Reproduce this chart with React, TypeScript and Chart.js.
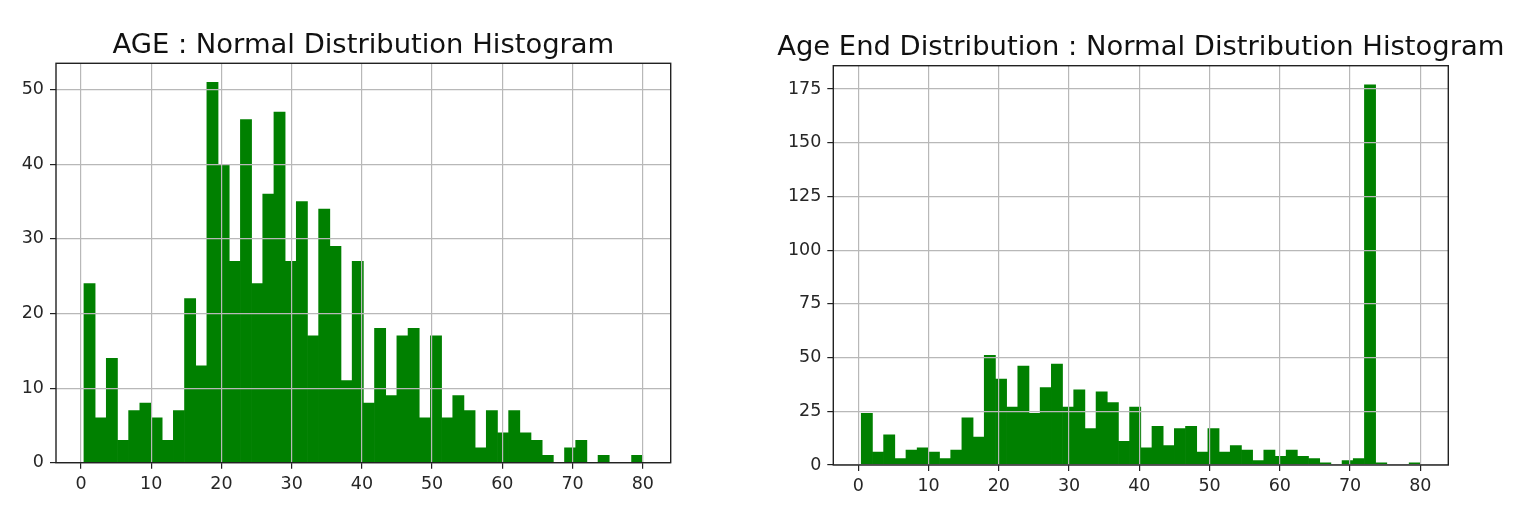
import React, { useEffect, useRef } from 'react';
import { Chart, registerables } from 'chart.js';

Chart.register(...registerables);

// Histogram bins (50 bins between min and max age)
const binMin = 0.42;
const binMax = 80;

// Counts per bin
const ageCounts = [
  24, 6, 14, 3, 7, 8, 6, 3, 7, 22,
  13, 51, 40, 27, 46, 24, 36, 47, 27, 35,
  17, 34, 29, 11, 27, 8, 18, 9, 17, 18,
  6, 17, 6, 9, 7, 2, 7, 4, 7, 4,
  3, 1, 0, 2, 3, 0, 1, 0, 0, 1,
];
const ageEndCounts = [
  24, 6, 14, 3, 7, 8, 6, 3, 7, 22,
  13, 51, 40, 27, 46, 24, 36, 47, 27, 35,
  17, 34, 29, 11, 27, 8, 18, 9, 17, 18,
  6, 17, 6, 9, 7, 2, 7, 4, 7, 4,
  3, 1, 0, 2, 3, 177, 1, 0, 0, 1,
];

const xTicks = [0, 10, 20, 30, 40, 50, 60, 70, 80];
const ageYTicks = [0, 10, 20, 30, 40, 50];
const ageEndYTicks = [0, 25, 50, 75, 100, 125, 150, 175];

const ageTitle = 'AGE : Normal Distribution Histogram';
const ageEndTitle = 'Age End Distribution : Normal Distribution Histogram';

const FONT = "'DejaVu Sans', sans-serif";
const W = 762;
const H = 528;

type Area = { left: number; top: number; right: number; bottom: number; titleY: number };

function makeConfig(counts: number[], yTicks: number[], title: string, area: Area): any {
  const bw = (binMax - binMin) / counts.length;
  const data = counts.map((c, i) => ({ x: binMin + (i + 0.5) * bw, y: c }));
  const pad = (binMax - binMin) * 0.05;
  const yMax = Math.max(...counts) * 1.05;

  const framePlugin = {
    id: 'frame' + title.length,
    afterDraw(chart: any) {
      const { ctx, chartArea } = chart;
      ctx.save();
      ctx.strokeStyle = '#222';
      ctx.lineWidth = 1.4;
      ctx.strokeRect(chartArea.left, chartArea.top, chartArea.right - chartArea.left, chartArea.bottom - chartArea.top);
      ctx.fillStyle = '#111';
      ctx.font = `27.4px ${FONT}`;
      ctx.textAlign = 'center';
      ctx.textBaseline = 'alphabetic';
      ctx.fillText(title, (chartArea.left + chartArea.right) / 2, area.titleY);
      ctx.restore();
    },
  };

  const gridOpts = {
    z: 1,
    offset: false,
    color: '#b8b8b8',
    lineWidth: 1.2,
    drawTicks: true,
    tickLength: 6,
    tickColor: '#222',
    tickWidth: 1.2,
  };
  const tickFont = { family: FONT, size: 17.5 };

  return {
    type: 'bar',
    data: {
      datasets: [
        {
          data,
          backgroundColor: 'green',
          borderWidth: 0,
          barPercentage: 1,
          categoryPercentage: 1,
        },
      ],
    },
    options: {
      animation: false,
      responsive: false,
      maintainAspectRatio: false,
      events: [],
      layout: { padding: { left: 0, top: area.top, right: W - area.right, bottom: 0 } },
      plugins: { legend: { display: false }, tooltip: { enabled: false }, title: { display: false } },
      scales: {
        x: {
          type: 'linear',
          offset: false,
          bounds: 'data',
          min: binMin - pad,
          max: binMax + pad,
          afterBuildTicks: (s: any) => {
            s.ticks = xTicks.map((v) => ({ value: v }));
          },
          afterFit: (s: any) => {
            s.height = H - area.bottom;
          },
          grid: gridOpts,
          border: { display: false },
          ticks: { font: tickFont, color: '#262626', padding: 5, maxRotation: 0, autoSkip: false },
        },
        y: {
          type: 'linear',
          offset: false,
          bounds: 'data',
          min: 0,
          max: yMax,
          afterBuildTicks: (s: any) => {
            s.ticks = yTicks.map((v) => ({ value: v }));
          },
          afterFit: (s: any) => {
            s.width = area.left;
          },
          grid: gridOpts,
          border: { display: false },
          ticks: { font: tickFont, color: '#262626', padding: 6, autoSkip: false },
        },
      },
    },
    plugins: [framePlugin],
  };
}

function Hist(props: { counts: number[]; yTicks: number[]; title: string; area: Area; left: number }) {
  const ref = useRef<HTMLCanvasElement>(null);
  useEffect(() => {
    if (!ref.current) return;
    const chart = new Chart(ref.current, makeConfig(props.counts, props.yTicks, props.title, props.area));
    return () => chart.destroy();
  }, []);
  return (
    <div style={{ position: 'absolute', left: props.left, top: 0, width: W, height: H }}>
      <canvas ref={ref} width={W} height={H} style={{ width: W, height: H, display: 'block' }} />
    </div>
  );
}

export default function App() {
  return (
    <div style={{ position: 'absolute', left: 0, top: 0, width: 1524, height: 528, background: '#fff' }}>
      <Hist
        counts={ageCounts}
        yTicks={ageYTicks}
        title={ageTitle}
        area={{ left: 56, top: 63.3, right: 670.7, bottom: 462.7, titleY: 53.3 }}
        left={0}
      />
      <Hist
        counts={ageEndCounts}
        yTicks={ageEndYTicks}
        title={ageEndTitle}
        area={{ left: 71.3, top: 65.7, right: 686.3, bottom: 465, titleY: 55 }}
        left={762}
      />
    </div>
  );
}
